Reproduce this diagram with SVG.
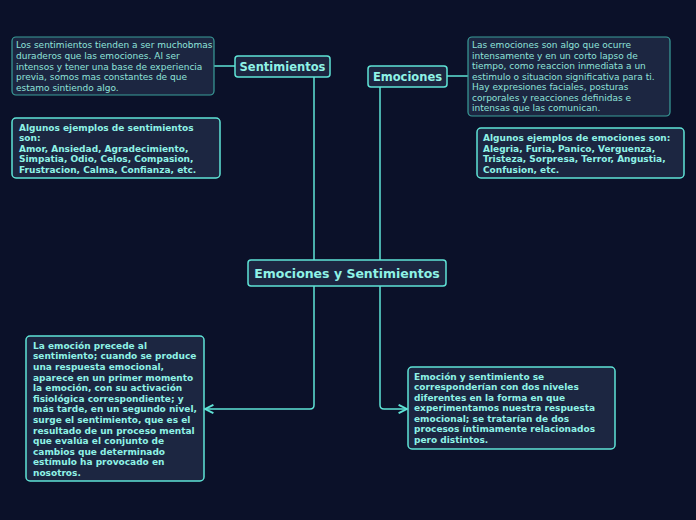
<svg xmlns="http://www.w3.org/2000/svg" width="696" height="520" viewBox="0 0 696 520">
<style>
.bg{fill:#0b1129}
.n{fill:#1c2641;stroke:#5fe3d6;stroke-width:1.5}
.d{fill:#1c2641;stroke:#3a9e9a;stroke-width:1.2}
.t{font-family:"DejaVu Sans",sans-serif;font-weight:bold;fill:#8ff2e6}
.s{font-family:"DejaVu Sans",sans-serif;font-size:9px;fill:#8fe3da}
.b{font-family:"DejaVu Sans",sans-serif;font-size:9px;font-weight:bold;fill:#8ff2e6}
.c{fill:none;stroke:#5fe3d6;stroke-width:1.5}
</style>
<defs><marker id="a" viewBox="0 0 10 10" refX="9" refY="5" markerWidth="7" markerHeight="7" orient="auto"><path d="M1,1L9,5L1,9" fill="none" stroke="#5fe3d6" stroke-width="1.8"/></marker></defs>
<rect class="bg" width="696" height="520"/>
<g id="connectors">
<path class="c" d="M314,260V77"/>
<path class="c" d="M380,260V87"/>
<path class="c" d="M214,66H235"/>
<path class="c" d="M447,76H468"/>
<path class="c" d="M314,286V405Q314,409 310,409H205" marker-end="url(#a)"/>
<path class="c" d="M380,286V405Q380,409 384,409H407" marker-end="url(#a)"/>
</g>
<g id="center"><rect class="n" x="248" y="260" width="198" height="26" rx="3"/><text class="t" x="347" y="278" font-size="12.5" text-anchor="middle">Emociones y Sentimientos</text></g>
<g id="sentimientos"><rect class="n" x="235" y="56" width="95" height="21" rx="3"/><text class="t" x="282.5" y="71" font-size="11.5" text-anchor="middle">Sentimientos</text></g>
<g id="emociones"><rect class="n" x="368" y="66" width="79" height="21" rx="3"/><text class="t" x="407.5" y="81" font-size="11.5" text-anchor="middle">Emociones</text></g>
<g id="sent-desc"><rect class="d" x="12" y="37" width="202" height="58" rx="4"/><text class="s"><tspan x="16" y="48">Los sentimientos tienden a ser muchobmas</tspan><tspan x="16" y="59">duraderos que las emociones. Al ser</tspan><tspan x="16" y="70">intensos y tener una base de experiencia</tspan><tspan x="16" y="80">previa, somos mas constantes de que</tspan><tspan x="16" y="91">estamo sintiendo algo.</tspan></text></g>
<g id="sent-ej"><rect class="n" x="12" y="118" width="208" height="60" rx="4"/><text class="b"><tspan x="19" y="131">Algunos ejemplos de sentimientos</tspan><tspan x="19" y="141">son:</tspan><tspan x="19" y="152">Amor, Ansiedad, Agradecimiento,</tspan><tspan x="19" y="162">Simpatia, Odio, Celos, Compasion,</tspan><tspan x="19" y="173">Frustracion, Calma, Confianza, etc.</tspan></text></g>
<g id="emo-desc"><rect class="d" x="468" y="37" width="202" height="79" rx="4"/><text class="s"><tspan x="472" y="48">Las emociones son algo que ocurre</tspan><tspan x="472" y="59">intensamente y en un corto lapso de</tspan><tspan x="472" y="69">tiempo, como reaccion inmediata a un</tspan><tspan x="472" y="80">estimulo o situacion significativa para ti.</tspan><tspan x="472" y="90">Hay expresiones faciales, posturas</tspan><tspan x="472" y="101">corporales y reacciones definidas e</tspan><tspan x="472" y="111">intensas que las comunican.</tspan></text></g>
<g id="emo-ej"><rect class="n" x="477" y="128" width="207" height="50" rx="4"/><text class="b"><tspan x="483" y="141">Algunos ejemplos de emociones son:</tspan><tspan x="483" y="152">Alegria, Furia, Panico, Verguenza,</tspan><tspan x="483" y="162">Tristeza, Sorpresa, Terror, Angustia,</tspan><tspan x="483" y="173">Confusion, etc.</tspan></text></g>
<g id="left-box"><rect class="n" x="26" y="336" width="178" height="145" rx="4"/><text class="b" font-size="8.8"><tspan x="33" y="349">La emoción precede al</tspan><tspan x="33" y="359">sentimiento; cuando se produce</tspan><tspan x="33" y="370">una respuesta emocional,</tspan><tspan x="33" y="381">aparece en un primer momento</tspan><tspan x="33" y="391">la emoción, con su activación</tspan><tspan x="33" y="402">fisiológica correspondiente; y</tspan><tspan x="33" y="412">más tarde, en un segundo nivel,</tspan><tspan x="33" y="423">surge el sentimiento, que es el</tspan><tspan x="33" y="434">resultado de un proceso mental</tspan><tspan x="33" y="444">que evalúa el conjunto de</tspan><tspan x="33" y="455">cambios que determinado</tspan><tspan x="33" y="465">estímulo ha provocado en</tspan><tspan x="33" y="476">nosotros.</tspan></text></g>
<g id="right-box"><rect class="n" x="408" y="367" width="207" height="82" rx="4"/><text class="b" font-size="8.8"><tspan x="414" y="380">Emoción y sentimiento se</tspan><tspan x="414" y="390">corresponderían con dos niveles</tspan><tspan x="414" y="401">diferentes en la forma en que</tspan><tspan x="414" y="411">experimentamos nuestra respuesta</tspan><tspan x="414" y="422">emocional; se tratarían de dos</tspan><tspan x="414" y="432">procesos íntimamente relacionados</tspan><tspan x="414" y="443">pero distintos.</tspan></text></g>
</svg>
